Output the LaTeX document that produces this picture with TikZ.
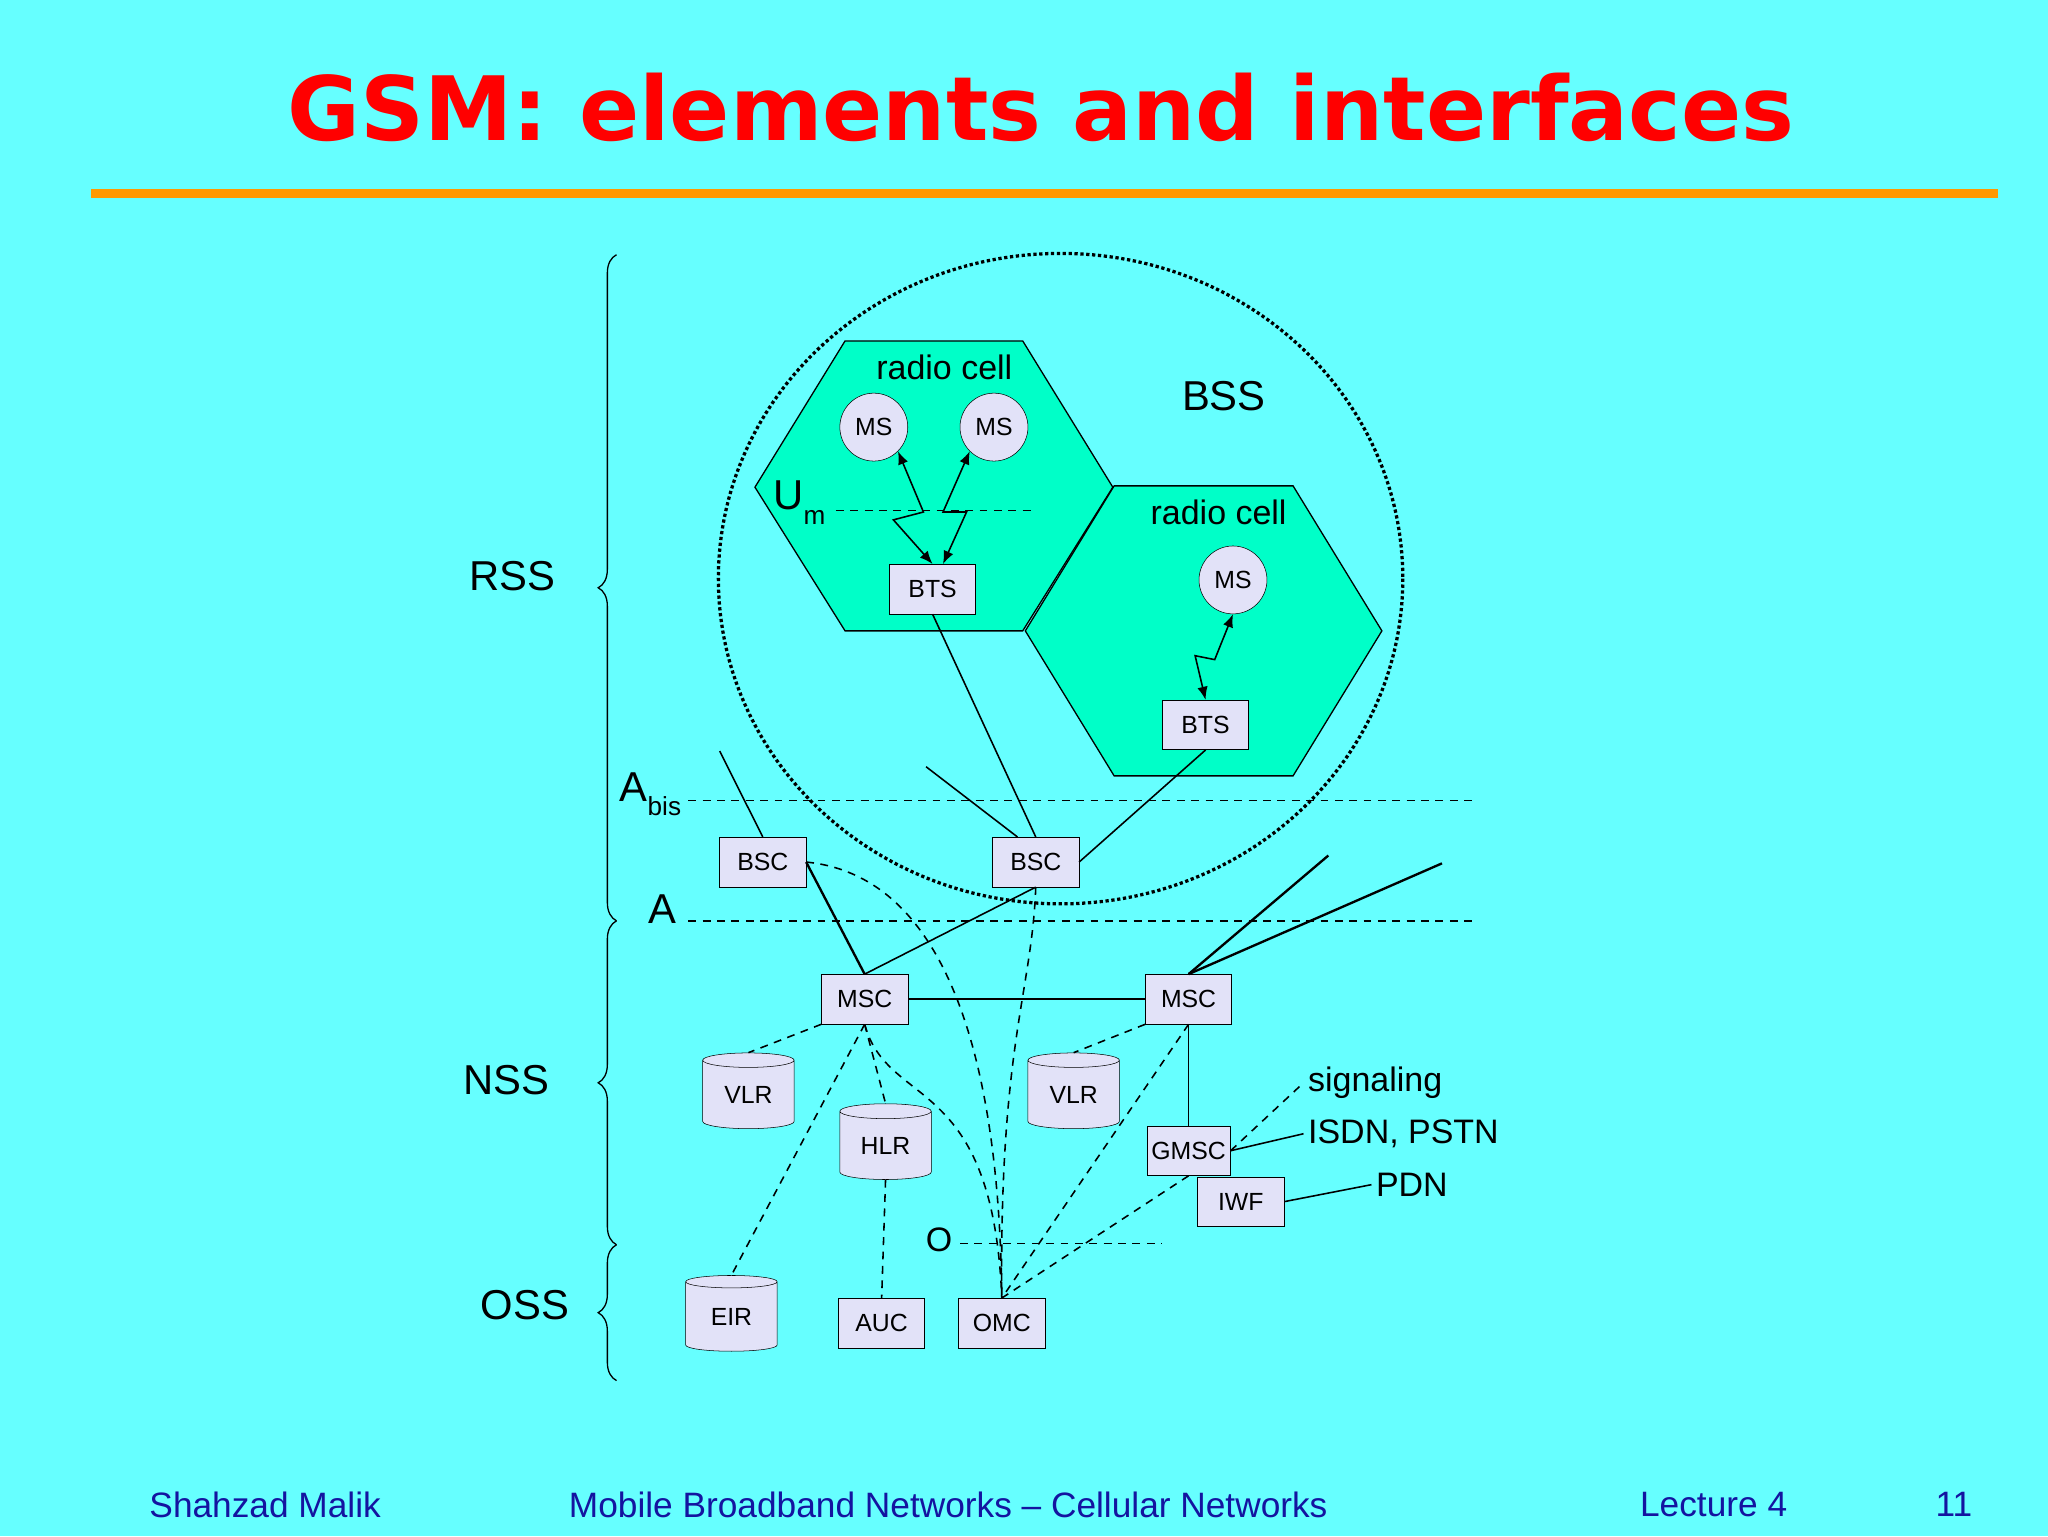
\documentclass[tikz,border=0pt]{standalone}
\usepackage{fontspec}
\setmainfont{Liberation Sans}
\newfontfamily\titlefont{DejaVu Sans}
\usetikzlibrary{shapes.geometric,decorations.pathreplacing,arrows.meta}
\definecolor{bg}{RGB}{102,255,255}
\definecolor{cell}{RGB}{0,255,200}
\definecolor{lav}{RGB}{226,226,248}
\definecolor{navy}{RGB}{20,20,160}
\begin{document}
\begin{tikzpicture}[x=1pt,y=-1pt,
  box/.style={draw,fill=lav,minimum width=66,minimum height=38,inner sep=0,font=\fontsize{19}{19}\selectfont},
  ms/.style={draw,circle,fill=lav,minimum size=52,inner sep=0,font=\fontsize{19}{19}\selectfont},
  cyl/.style={draw,fill=lav,cylinder,shape border rotate=90,aspect=0.3,minimum width=70,minimum height=58,inner sep=0,font=\fontsize{19}{19}\selectfont},
  lbl/.style={font=\fontsize{26}{26}\selectfont},
  big/.style={font=\fontsize{32}{32}\selectfont},
  dl/.style={dash pattern=on 6pt off 5pt,line width=1.2pt},
  sl/.style={line width=1.2pt},
  zz/.style={{Latex[length=10,width=8]}-{Latex[length=10,width=8]},line width=1.2pt},
  br/.style={decorate,decoration={brace,amplitude=14},line width=1pt},
  foot/.style={text=navy,font=\fontsize{27}{27}\selectfont}]
\fill[bg] (0,0) rectangle (1568,1176);
\useasboundingbox (0,0) rectangle (1568,1176);
\node[text=red,font=\titlefont\bfseries\fontsize{68}{68}\selectfont] (title) at (797,82) {GSM: elements and interfaces};
\draw[orange!80!yellow,line width=7] (70,148) -- (1530,148);
% cells
\draw[fill=cell,line width=1pt] (578,373)--(647,261)--(783,261)--(852,373)--(783,483)--(647,483)--cycle;
\draw[fill=cell,line width=1pt] (785,483)--(853,372)--(990,372)--(1058,483)--(990,594)--(853,594)--cycle;
\draw[dotted,line width=2.5pt] (812,443) ellipse (262 and 249);
\node[lbl] (rc1) at (723,281) {radio cell};
\node[lbl] (rc2) at (933,392) {radio cell};
\node[big] (bss) at (937,303) {BSS};
\node[ms] (ms1) at (669,327) {MS};
\node[ms] (ms2) at (761,327) {MS};
\node[ms] (ms3) at (944,444) {MS};
\node[box] (bts1) at (714,451) {BTS};
\node[box] (bts2) at (923,555) {BTS};
\node[big] (um) at (612,385) {U\raisebox{-0.35em}{\fontsize{20}{20}\selectfont m}};
\draw[dl] (640,391) -- (790,391);
\draw[zz] (ms1.south east) -- (707,392) -- (684,398) -- (bts1.north);
\draw[zz] (ms2.south west) -- (722,392) -- (740,392) -- ([xshift=8]bts1.north);
\draw[zz] (ms3.south) -- (930,505) -- (915,502) -- (bts2.north);
% interfaces
\node[big] (abis) at (498,608) {A\raisebox{-0.35em}{\fontsize{20}{20}\selectfont bis}};
\draw[dl] (527,613) -- (1128,613);
\node[big] (a) at (507,696) {A};
\draw[dl] (527,705) -- (1128,705);
\node[box] (bsc1) at (584,660) {BSC};
\node[box] (bsc2) at (793,660) {BSC};
\coordinate (e1) at (551,575); \coordinate (e2) at (709,587);
\draw[sl] (bsc1.north) -- (e1);
\draw[sl] ([xshift=-14]bsc2.north) -- (e2);
\draw[sl] (bsc2.north) -- (bts1.south);
\draw[sl] (bsc2.east) -- (bts2.south);
\node[box] (msc1) at (662,765) {MSC};
\node[box] (msc2) at (910,765) {MSC};
\draw[line width=1.8pt] (bsc1.east) -- (msc1.north);
\draw[sl] (bsc2.south) -- (msc1.north);
\draw[line width=1.8pt] (msc1.east) -- (msc2.west);
\coordinate (e3) at (1017,655); \coordinate (e4) at (1104,661);
\draw[line width=1.8pt] (msc2.north) -- (e3);
\draw[line width=1.8pt] (msc2.north) -- (e4);
\node[cyl] (vlr1) at (573,838) {VLR};
\node[cyl] (vlr2) at (822,838) {VLR};
\node[cyl] (hlr) at (678,877) {HLR};
\node[cyl] (eir) at (560,1008) {EIR};
\node[box] (auc) at (675,1013) {AUC};
\node[box] (omc) at (767,1013) {OMC};
\node[box,minimum width=64] (gmsc) at (910,881) {GMSC};
\node[box] (iwf) at (950,920) {IWF};
\draw[dl] (msc1.south west) -- (vlr1.north);
\draw[dl] (msc2.south west) -- (vlr2.north);
\draw[dl] (msc1.south) -- (hlr.north);
\draw[dl] (msc1.south) -- (eir.north);
\draw[dl] (hlr.south) -- (auc.north);
\draw[dl] (msc2.south) -- (omc.north);
\draw[dl] (gmsc.south) -- (omc.north);
\draw[sl] (msc2.south) -- (gmsc.north);
\draw[dl] (bsc1.east) .. controls (720,670) and (765,800) .. (omc.north);
\draw[dl] (bsc2.south) .. controls (790,760) and (765,800) .. (omc.north);
\draw[dl] (msc1.south) .. controls (680,850) and (760,820) .. (omc.north);
\node[lbl] (o) at (719,949) {O};
\draw[dl] (735,952) -- (890,952);
\node[lbl,anchor=west] (sig) at (998,829) {signaling};
\node[lbl,anchor=west] (isdn) at (998,868) {ISDN, PSTN};
\node[lbl,anchor=west] (pdn) at (1050,907) {PDN};
\draw[dl] (gmsc.east) -- (sig.west);
\draw[sl] (gmsc.east) -- (isdn.west);
\draw[sl] (iwf.east) -- (pdn.west);
% braces
\draw[br] (472,705) -- (472,195);
\draw[br] (472,953) -- (472,705);
\draw[br] (472,1057) -- (472,953);
\node[big] (rss) at (392,441) {RSS};
\node[big] (nss) at (388,827) {NSS};
\node[big] (oss) at (402,999) {OSS};
% footer
\node[foot] (f1) at (203,1152) {Shahzad Malik};
\node[foot] (f2) at (726,1152) {Mobile Broadband Networks – Cellular Networks};
\node[foot] (f3) at (1312,1152) {Lecture 4};
\node[foot] (f4) at (1496,1152) {11};
\end{tikzpicture}
\end{document}
